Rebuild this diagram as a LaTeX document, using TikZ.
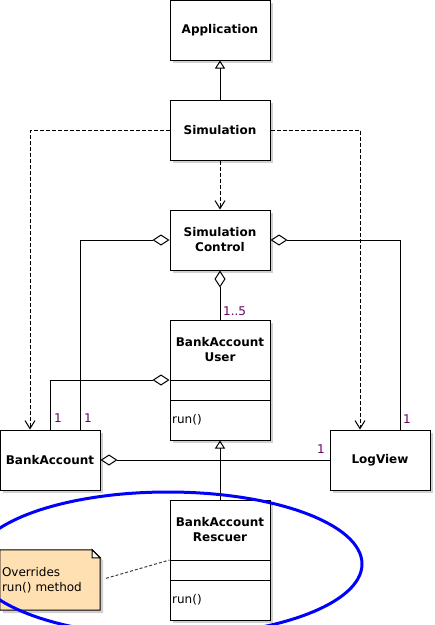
\documentclass[tikz,border=0pt]{standalone}
\usepackage{fontspec}
\setmainfont{DejaVu Sans}
\usetikzlibrary{arrows.meta,shadows,calc}
\definecolor{lblcol}{HTML}{660066}
\definecolor{notefill}{HTML}{FFE0B3}
\definecolor{shadowgray}{HTML}{D0D0D0}
\tikzset{
  box/.style={draw, line width=1pt, fill=white, minimum width=100pt, minimum height=60pt,
    inner sep=0pt, align=center, font={\fontsize{12pt}{15pt}\selectfont\bfseries},
    drop shadow={shadow xshift=3pt, shadow yshift=-3pt, fill=shadowgray, opacity=1}},
  classbox/.style={box, minimum height=120pt},
  titletext/.style={inner sep=0pt, align=center, font={\fontsize{12pt}{15pt}\selectfont\bfseries}},
  methodtext/.style={inner sep=0pt, anchor=west, font={\fontsize{12pt}{15pt}\selectfont}},
  mult/.style={inner sep=0pt, text=lblcol, font={\fontsize{12pt}{15pt}\selectfont}},
  gen/.style={line width=1pt, -{Triangle[open, length=8pt, width=10pt]}},
  dep/.style={line width=1pt, dash pattern=on 4pt off 2pt, -{Straight Barb[length=8pt, width=10pt]}},
  aggr/.style={line width=1pt, {Diamond[open, length=17pt, width=11pt]}-},
  notelink/.style={line width=1pt, black!75, dash pattern=on 3pt off 2pt},
}
\begin{document}
\begin{tikzpicture}[x=1pt, y=-1pt]
\useasboundingbox (0,0) rectangle (435,625);

% boxes
\node[box] (app) at (220,30) {Application};
\node[box] (sim) at (220,130) {Simulation};
\node[box] (sc) at (220,240) {Simulation\\Control};
\node[classbox] (bau) at (220,380) {};
\node[box] (ba) at (50,460) {BankAccount};
\node[box] (lv) at (380,460) {LogView};
\node[classbox] (resc) at (220,560) {};

% class compartments
\node[titletext] (bautitle) at (220,350) {BankAccount\\User};
\draw[line width=1pt] (170,380) -- (270,380);
\draw[line width=1pt] (170,400) -- (270,400);
\node[methodtext] (baurun) at (172,420) {run()};

\node[titletext] (resctitle) at (220,530) {BankAccount\\Rescuer};
\draw[line width=1pt] (170,560) -- (270,560);
\draw[line width=1pt] (170,580) -- (270,580);
\node[methodtext] (rescrun) at (172,600) {run()};

% note
\node[inner sep=2pt, text width=96pt, minimum height=60pt, align=left,
      font={\fontsize{12pt}{15pt}\selectfont}] (note) at (50,580) {};
\fill[shadowgray] ([shift={(3pt,-3pt)}]note.north west) -- ([shift={(-5pt,-3pt)}]note.north east)
   -- ([shift={(3pt,-11pt)}]note.north east) -- ([shift={(3pt,-3pt)}]note.south east)
   -- ([shift={(3pt,-3pt)}]note.south west) -- cycle;
\draw[line width=1pt, fill=notefill] (note.north west) -- ([xshift=-8pt]note.north east)
   -- ([yshift=-8pt]note.north east) -- (note.south east) -- (note.south west) -- cycle;
\draw[line width=1pt, fill=white] ([xshift=-8pt]note.north east) -- ([yshift=-8pt]note.north east)
   -- ([xshift=-8pt,yshift=-8pt]note.north east) -- cycle;
\node[inner sep=2pt, text width=96pt, align=left, font={\fontsize{12pt}{15pt}\selectfont}]
   (notetext) at (note.center) {Overrides\\run() method};

% connectors
\draw[gen] (sim.north) -- (app.south);
\draw[dep] (sim.south) -- (sc.north);
\draw[dep] (sim.west) -| ([xshift=-20pt]ba.north);
\draw[dep] (sim.east) -| ([xshift=-20pt]lv.north);
\draw[aggr] (sc.west) -| ([xshift=30pt]ba.north);
\draw[aggr] (sc.east) -| ([xshift=20pt]lv.north);
\draw[aggr] (sc.south) -- (bau.north);
\draw[aggr] (bau.west) -| (ba.north);
\draw[aggr] (ba.east) -- (lv.west);
\draw[gen] (resc.north) -- (bau.south);
\draw[notelink, shorten <=6pt] (note.east) -- (resc.west);

% multiplicities
\node[mult, anchor=west] (m15) at (223,311) {1..5};
\node[mult, anchor=west] (mba1) at (54,418) {1};
\node[mult, anchor=west] (mba2) at (84,418) {1};
\node[mult, anchor=west] (mlv1) at (403,419) {1};
\node[mult, anchor=east] (mlv2) at (325,449) {1};

% highlight ellipse
\draw[blue, line width=3pt] (168,564) ellipse [x radius=194pt, y radius=72pt];
\end{tikzpicture}
\end{document}
